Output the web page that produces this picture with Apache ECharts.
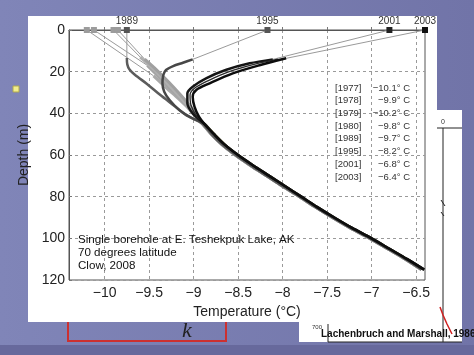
<!DOCTYPE html>
<html><head><meta charset="utf-8">
<script src="https://cdn.jsdelivr.net/npm/echarts@6/dist/echarts.min.js"></script>
<style>html,body{margin:0;padding:0;background:#7677aa;overflow:hidden}#c{width:474px;height:355px}</style>
</head><body><div id="c"></div>
<script>
// ---- data ----
const xTicks = [-10, -9.5, -9, -8.5, -8, -7.5, -7, -6.5];
const years = ['1977', '1978', '1979', '1980', '1989', '1995', '2001', '2003'];
const surfaceTemps = [-10.12, -9.9, -10.2, -9.85, -9.75, -8.17, -6.8, -6.4];
const legendTemps = ['\u221210.1\u00b0 C', '\u22129.9\u00b0 C', '\u221210.2\u00b0 C', '\u22129.8\u00b0 C', '\u22129.7\u00b0 C', '\u22128.2\u00b0 C', '\u22126.8\u00b0 C', '\u22126.4\u00b0 C'];
const labelledYears = ['1989', '1995', '2001', '2003'];

const tailDepth = [45, 50, 55, 60, 65, 70, 75, 80, 85, 90, 95, 100, 105, 110, 115];
const tailTempDark = [-8.88, -8.77, -8.65, -8.5, -8.33, -8.15, -7.97, -7.79, -7.61, -7.42, -7.22, -7.0, -6.8, -6.6, -6.41];
const tailTempGray = [-8.9, -8.8, -8.68, -8.53, -8.36, -8.18, -8.0, -7.81, -7.63, -7.44, -7.24, -7.02, -6.82, -6.62, -6.44];
const tailTempYellow = [-8.87, -8.76, -8.64, -8.49, -8.32, -8.14, -7.96, -7.78, -7.6, -7.41, -7.21, -6.99, -6.79, -6.59, -6.42];

const top1977 = [[-9.52, 17], [-9.38, 23], [-9.24, 29], [-9.1, 35], [-8.99, 40.5]];
const top1978 = [[-9.6, 13], [-9.47, 18], [-9.33, 24], [-9.2, 30], [-9.07, 36], [-8.97, 41.5]];
const top1979 = [[-9.45, 22], [-9.3, 28], [-9.17, 33], [-9.05, 38], [-8.96, 42.5]];
const top1980 = [[-9.55, 14], [-9.42, 19], [-9.28, 25], [-9.15, 31], [-9.03, 37], [-8.95, 42]];
const top1989 = [[-9.75, 13.4], [-9.745, 16.5], [-9.72, 19], [-9.66, 21.5], [-9.52, 26], [-9.38, 31], [-9.23, 36], [-9.08, 41]];
const top1995 = [[-9.01, 14.1], [-9.12, 15.7], [-9.23, 17.3], [-9.31, 19.2], [-9.34, 21.6], [-9.35, 25.6], [-9.33, 29.6], [-9.27, 33.6], [-9.16, 38.4], [-9.03, 42]];
const top2001 = [[-8.11, 14.1], [-8.37, 16], [-8.64, 19.2], [-8.86, 23.2], [-9.01, 27.2], [-9.07, 30.4], [-9.07, 35.2], [-9.01, 40]];
const topMid = [[-8.05, 14], [-8.3, 16.3], [-8.6, 20], [-8.84, 24.4], [-8.99, 28], [-9.04, 31.2], [-9.03, 36], [-8.97, 41]];
const top2003 = [[-7.96, 13.6], [-8.25, 16.8], [-8.56, 20.8], [-8.82, 25.6], [-8.97, 28.8], [-9.01, 32], [-8.99, 36.8], [-8.94, 41.6]];

const annotationLines = ['Single borehole at E. Teshekpuk Lake, AK', '70 degrees latitude', 'Clow, 2008'];

// ---- build ----
const tops = [top1977, top1978, top1979, top1980, top1989, top1995, top2001, top2003];
const markerColors = ['#9c9c9c', '#9c9c9c', '#9c9c9c', '#9c9c9c', '#555', '#555', '#222', '#111'];
const tailOf = arr => tailDepth.map((d, i) => [arr[i], d]);
const minus = v => (v < 0 ? '\u2212' : '') + Math.abs(v);

const series = [];
years.forEach((y, i) => {
  const lab = labelledYears.includes(y);
  series.push({
    type: 'line', z: 3, silent: true, showSymbol: true, symbol: 'rect', symbolSize: 6,
    itemStyle: { color: markerColors[i] },
    lineStyle: { color: '#9a9a9a', width: 1 },
    label: { show: false },
    data: [
      { value: [surfaceTemps[i], 0], label: { show: lab, position: 'top', distance: 1, formatter: y, fontSize: 10, color: '#333', fontFamily: 'Liberation Sans' } },
      { value: tops[i][0], symbol: 'none' }
    ]
  });
});
function prof(top, tail, color, width, z) {
  series.push({ type: 'line', z: z, silent: true, symbol: 'none', smooth: 0.3,
    lineStyle: { color: color, width: width }, data: top.concat(tailOf(tail)) });
}
prof(top1979, tailTempGray, '#a9a9a9', 3, 4);
prof(top1977, tailTempGray, '#a4a4a4', 3, 4);
prof(top1978, tailTempGray, '#b0b0b0', 3, 4);
prof(top1980, tailTempGray, '#a0a0a0', 3, 4);
prof(top1989, tailTempGray, '#5c5c5c', 2.5, 5);
prof(top1995, tailTempDark, '#474747', 2.5, 5);
series.push({ type: 'line', z: 5, silent: true, symbol: 'none', smooth: 0.3,
  lineStyle: { color: '#ece68a', width: 1.2 }, data: tailOf(tailTempYellow) });
prof(top2001, tailTempDark, '#151515', 2.5, 6);
prof(topMid, tailTempDark, '#2a2a2a', 1.3, 6);
prof(top2003, tailTempDark, '#0d0d0d', 2.5, 6);

const FONT = 'Liberation Sans';
const graphics = [
  { type: 'rect', z: -20, shape: { x: 0, y: 345, width: 474, height: 10 }, style: { fill: '#67699c' } },
  { type: 'rect', z: -20, shape: { x: 13, y: 86, width: 6, height: 6 }, style: { fill: '#f2ee8c', stroke: '#b0a850', lineWidth: 1 } },
  { type: 'rect', z: -19, shape: { x: 68, y: 300, width: 158, height: 41 }, style: { fill: 'none', stroke: '#cc3030', lineWidth: 2 } },
  { type: 'text', z: -19, style: { x: 187, y: 331, text: 'k', fill: '#222', font: 'italic 22px "Liberation Serif"', align: 'center', verticalAlign: 'middle' } },
  { type: 'rect', z: -18, shape: { x: 28, y: 16, width: 409, height: 306 }, style: { fill: '#ffffff' } },
  { type: 'rect', z: -18, shape: { x: 436, y: 110, width: 26, height: 232 }, style: { fill: '#ffffff' } },
  { type: 'rect', z: -18, shape: { x: 299, y: 322, width: 163, height: 20 }, style: { fill: '#ffffff' } },
  { type: 'line', z: -17, shape: { x1: 437, y1: 128, x2: 462, y2: 128 }, style: { stroke: '#222', lineWidth: 1 } },
  { type: 'line', z: -17, shape: { x1: 443, y1: 128, x2: 443, y2: 342 }, style: { stroke: '#222', lineWidth: 1 } },
  { type: 'line', z: -17, shape: { x1: 328, y1: 324, x2: 328, y2: 342 }, style: { stroke: '#222', lineWidth: 1 } },
  { type: 'line', z: -17, shape: { x1: 328, y1: 342, x2: 462, y2: 342 }, style: { stroke: '#222', lineWidth: 1 } },
  { type: 'polyline', z: -17, shape: { points: [[440, 307], [443, 315], [447, 324], [452, 334]] }, style: { stroke: '#d02020', lineWidth: 1.5, fill: 'none' } },
  { type: 'line', z: -17, shape: { x1: 441, y1: 200, x2: 445, y2: 206 }, style: { stroke: '#222', lineWidth: 1 } },
  { type: 'line', z: -17, shape: { x1: 441, y1: 212, x2: 444, y2: 216 }, style: { stroke: '#222', lineWidth: 1 } },
  { type: 'text', z: -17, style: { x: 443, y: 122, text: '0', fill: '#333', font: '7px ' + FONT, align: 'center', verticalAlign: 'middle' } },
  { type: 'text', z: -17, style: { x: 312, y: 327, text: '700', fill: '#333', font: '6px ' + FONT, align: 'left', verticalAlign: 'middle' } },
  { type: 'text', z: -16, style: { x: 321, y: 334, text: 'Lachenbruch and Marshall, 1986', fill: '#111', font: 'bold 10px ' + FONT, align: 'left', verticalAlign: 'middle' } }
];
years.forEach((y, i) => {
  const yy = 88 + i * 12.7;
  graphics.push({ type: 'text', z: 10, style: { x: 335, y: yy, text: '[' + y + ']', fill: '#333', font: '9.5px ' + FONT, align: 'left', verticalAlign: 'middle' } });
  graphics.push({ type: 'text', z: 10, style: { x: 410, y: yy, text: legendTemps[i], fill: '#333', font: '9.5px ' + FONT, align: 'right', verticalAlign: 'middle' } });
});
annotationLines.forEach((t, i) => {
  graphics.push({ type: 'text', z: 10, style: { x: 78, y: 240 + i * 13, text: t, fill: '#111', font: '11.6px ' + FONT, align: 'left', verticalAlign: 'middle' } });
});

const chart = echarts.init(document.getElementById('c'), null, { renderer: 'canvas' });
chart.setOption({
  animation: false,
  backgroundColor: { type: 'linear', x: 0, y: 0, x2: 1, y2: 0, colorStops: [{ offset: 0, color: '#8085b8' }, { offset: 1, color: '#7174a8' }] },
  textStyle: { fontFamily: FONT },
  graphic: graphics,
  grid: { left: 69, right: 49, top: 30, bottom: 75, show: true, borderColor: '#555', borderWidth: 1, backgroundColor: 'transparent', containLabel: false },
  xAxis: {
    type: 'value', min: -10.4, max: -6.4,
    name: 'Temperature (\u00b0C)', nameLocation: 'middle', nameGap: 25,
    nameTextStyle: { fontSize: 14, color: '#222', fontFamily: FONT },
    axisLine: { show: true, lineStyle: { color: '#555' } },
    axisTick: { show: true, inside: true, length: 3, lineStyle: { color: '#777' }, customValues: xTicks },
    axisLabel: { customValues: xTicks, formatter: minus, fontSize: 14, color: '#222', margin: 6, fontFamily: FONT },
    splitLine: { show: true, lineStyle: { color: '#9a9a9a', type: [3, 3], width: 1 } }
  },
  yAxis: {
    type: 'value', min: 0, max: 120, interval: 20, inverse: true,
    name: 'Depth (m)', nameLocation: 'middle', nameGap: 26,
    nameTextStyle: { fontSize: 14, color: '#222', fontFamily: FONT },
    axisLine: { show: true, lineStyle: { color: '#555' } },
    axisTick: { show: true, inside: true, length: 3, lineStyle: { color: '#777' } },
    axisLabel: { fontSize: 14, color: '#222', margin: 4, fontFamily: FONT },
    splitLine: { show: true, lineStyle: { color: '#9a9a9a', type: [3, 3], width: 1 } }
  },
  series: series
});
</script></body></html>
